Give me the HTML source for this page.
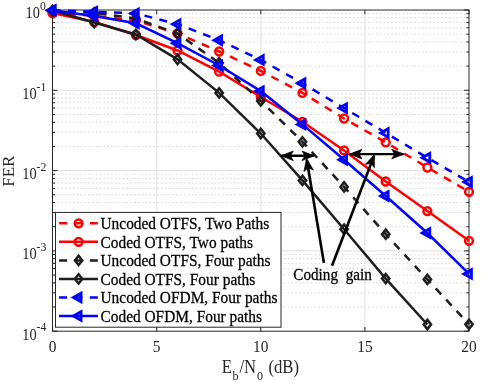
<!DOCTYPE html><html><head><meta charset="utf-8"><style>html,body{margin:0;padding:0;background:#fff;}svg{display:block;}text{font-family:"Liberation Serif","Times New Roman",serif;fill:#262626;}text.k{fill:#000;stroke:#000;stroke-width:0.25px;}</style></head><body>
<svg width="485" height="383" viewBox="0 0 485 383">
<rect width="485" height="383" fill="#fff"/>
<g stroke="#d2d2d2" stroke-width="1" stroke-dasharray="1.4 2.437" stroke-dashoffset="2.639"><line x1="52.5" y1="66.13" x2="469.0" y2="66.13"/><line x1="52.5" y1="51.99" x2="469.0" y2="51.99"/><line x1="52.5" y1="41.95" x2="469.0" y2="41.95"/><line x1="52.5" y1="34.17" x2="469.0" y2="34.17"/><line x1="52.5" y1="27.81" x2="469.0" y2="27.81"/><line x1="52.5" y1="22.44" x2="469.0" y2="22.44"/><line x1="52.5" y1="17.78" x2="469.0" y2="17.78"/><line x1="52.5" y1="13.67" x2="469.0" y2="13.67"/><line x1="52.5" y1="146.43" x2="469.0" y2="146.43"/><line x1="52.5" y1="132.29" x2="469.0" y2="132.29"/><line x1="52.5" y1="122.25" x2="469.0" y2="122.25"/><line x1="52.5" y1="114.47" x2="469.0" y2="114.47"/><line x1="52.5" y1="108.11" x2="469.0" y2="108.11"/><line x1="52.5" y1="102.74" x2="469.0" y2="102.74"/><line x1="52.5" y1="98.08" x2="469.0" y2="98.08"/><line x1="52.5" y1="93.97" x2="469.0" y2="93.97"/><line x1="52.5" y1="226.73" x2="469.0" y2="226.73"/><line x1="52.5" y1="212.59" x2="469.0" y2="212.59"/><line x1="52.5" y1="202.55" x2="469.0" y2="202.55"/><line x1="52.5" y1="194.77" x2="469.0" y2="194.77"/><line x1="52.5" y1="188.41" x2="469.0" y2="188.41"/><line x1="52.5" y1="183.04" x2="469.0" y2="183.04"/><line x1="52.5" y1="178.38" x2="469.0" y2="178.38"/><line x1="52.5" y1="174.27" x2="469.0" y2="174.27"/><line x1="52.5" y1="307.03" x2="469.0" y2="307.03"/><line x1="52.5" y1="292.89" x2="469.0" y2="292.89"/><line x1="52.5" y1="282.85" x2="469.0" y2="282.85"/><line x1="52.5" y1="275.07" x2="469.0" y2="275.07"/><line x1="52.5" y1="268.71" x2="469.0" y2="268.71"/><line x1="52.5" y1="263.34" x2="469.0" y2="263.34"/><line x1="52.5" y1="258.68" x2="469.0" y2="258.68"/><line x1="52.5" y1="254.57" x2="469.0" y2="254.57"/></g>
<g stroke="#e0e0e0" stroke-width="1"><line x1="156.70" y1="10.0" x2="156.70" y2="331.2"/><line x1="260.80" y1="10.0" x2="260.80" y2="331.2"/><line x1="364.90" y1="10.0" x2="364.90" y2="331.2"/><line x1="52.5" y1="90.30" x2="469.0" y2="90.30"/><line x1="52.5" y1="170.60" x2="469.0" y2="170.60"/><line x1="52.5" y1="250.90" x2="469.0" y2="250.90"/></g>
<rect x="52.5" y="10.0" width="416.5" height="321.2" fill="none" stroke="#262626" stroke-width="1"/>
<g stroke="#262626" stroke-width="1"><line x1="52.60" y1="331.2" x2="52.60" y2="327.0"/><line x1="52.60" y1="10.0" x2="52.60" y2="14.2"/><line x1="156.70" y1="331.2" x2="156.70" y2="327.0"/><line x1="156.70" y1="10.0" x2="156.70" y2="14.2"/><line x1="260.80" y1="331.2" x2="260.80" y2="327.0"/><line x1="260.80" y1="10.0" x2="260.80" y2="14.2"/><line x1="364.90" y1="331.2" x2="364.90" y2="327.0"/><line x1="364.90" y1="10.0" x2="364.90" y2="14.2"/><line x1="469.00" y1="331.2" x2="469.00" y2="327.0"/><line x1="469.00" y1="10.0" x2="469.00" y2="14.2"/><line x1="52.5" y1="10.00" x2="57.5" y2="10.00"/><line x1="469.0" y1="10.00" x2="464.0" y2="10.00"/><line x1="52.5" y1="90.30" x2="57.5" y2="90.30"/><line x1="469.0" y1="90.30" x2="464.0" y2="90.30"/><line x1="52.5" y1="170.60" x2="57.5" y2="170.60"/><line x1="469.0" y1="170.60" x2="464.0" y2="170.60"/><line x1="52.5" y1="250.90" x2="57.5" y2="250.90"/><line x1="469.0" y1="250.90" x2="464.0" y2="250.90"/><line x1="52.5" y1="331.20" x2="57.5" y2="331.20"/><line x1="469.0" y1="331.20" x2="464.0" y2="331.20"/><line x1="52.5" y1="66.13" x2="55.1" y2="66.13"/><line x1="469.0" y1="66.13" x2="466.4" y2="66.13"/><line x1="52.5" y1="51.99" x2="55.1" y2="51.99"/><line x1="469.0" y1="51.99" x2="466.4" y2="51.99"/><line x1="52.5" y1="41.95" x2="55.1" y2="41.95"/><line x1="469.0" y1="41.95" x2="466.4" y2="41.95"/><line x1="52.5" y1="34.17" x2="55.1" y2="34.17"/><line x1="469.0" y1="34.17" x2="466.4" y2="34.17"/><line x1="52.5" y1="27.81" x2="55.1" y2="27.81"/><line x1="469.0" y1="27.81" x2="466.4" y2="27.81"/><line x1="52.5" y1="22.44" x2="55.1" y2="22.44"/><line x1="469.0" y1="22.44" x2="466.4" y2="22.44"/><line x1="52.5" y1="17.78" x2="55.1" y2="17.78"/><line x1="469.0" y1="17.78" x2="466.4" y2="17.78"/><line x1="52.5" y1="13.67" x2="55.1" y2="13.67"/><line x1="469.0" y1="13.67" x2="466.4" y2="13.67"/><line x1="52.5" y1="146.43" x2="55.1" y2="146.43"/><line x1="469.0" y1="146.43" x2="466.4" y2="146.43"/><line x1="52.5" y1="132.29" x2="55.1" y2="132.29"/><line x1="469.0" y1="132.29" x2="466.4" y2="132.29"/><line x1="52.5" y1="122.25" x2="55.1" y2="122.25"/><line x1="469.0" y1="122.25" x2="466.4" y2="122.25"/><line x1="52.5" y1="114.47" x2="55.1" y2="114.47"/><line x1="469.0" y1="114.47" x2="466.4" y2="114.47"/><line x1="52.5" y1="108.11" x2="55.1" y2="108.11"/><line x1="469.0" y1="108.11" x2="466.4" y2="108.11"/><line x1="52.5" y1="102.74" x2="55.1" y2="102.74"/><line x1="469.0" y1="102.74" x2="466.4" y2="102.74"/><line x1="52.5" y1="98.08" x2="55.1" y2="98.08"/><line x1="469.0" y1="98.08" x2="466.4" y2="98.08"/><line x1="52.5" y1="93.97" x2="55.1" y2="93.97"/><line x1="469.0" y1="93.97" x2="466.4" y2="93.97"/><line x1="52.5" y1="226.73" x2="55.1" y2="226.73"/><line x1="469.0" y1="226.73" x2="466.4" y2="226.73"/><line x1="52.5" y1="212.59" x2="55.1" y2="212.59"/><line x1="469.0" y1="212.59" x2="466.4" y2="212.59"/><line x1="52.5" y1="202.55" x2="55.1" y2="202.55"/><line x1="469.0" y1="202.55" x2="466.4" y2="202.55"/><line x1="52.5" y1="194.77" x2="55.1" y2="194.77"/><line x1="469.0" y1="194.77" x2="466.4" y2="194.77"/><line x1="52.5" y1="188.41" x2="55.1" y2="188.41"/><line x1="469.0" y1="188.41" x2="466.4" y2="188.41"/><line x1="52.5" y1="183.04" x2="55.1" y2="183.04"/><line x1="469.0" y1="183.04" x2="466.4" y2="183.04"/><line x1="52.5" y1="178.38" x2="55.1" y2="178.38"/><line x1="469.0" y1="178.38" x2="466.4" y2="178.38"/><line x1="52.5" y1="174.27" x2="55.1" y2="174.27"/><line x1="469.0" y1="174.27" x2="466.4" y2="174.27"/><line x1="52.5" y1="307.03" x2="55.1" y2="307.03"/><line x1="469.0" y1="307.03" x2="466.4" y2="307.03"/><line x1="52.5" y1="292.89" x2="55.1" y2="292.89"/><line x1="469.0" y1="292.89" x2="466.4" y2="292.89"/><line x1="52.5" y1="282.85" x2="55.1" y2="282.85"/><line x1="469.0" y1="282.85" x2="466.4" y2="282.85"/><line x1="52.5" y1="275.07" x2="55.1" y2="275.07"/><line x1="469.0" y1="275.07" x2="466.4" y2="275.07"/><line x1="52.5" y1="268.71" x2="55.1" y2="268.71"/><line x1="469.0" y1="268.71" x2="466.4" y2="268.71"/><line x1="52.5" y1="263.34" x2="55.1" y2="263.34"/><line x1="469.0" y1="263.34" x2="466.4" y2="263.34"/><line x1="52.5" y1="258.68" x2="55.1" y2="258.68"/><line x1="469.0" y1="258.68" x2="466.4" y2="258.68"/><line x1="52.5" y1="254.57" x2="55.1" y2="254.57"/><line x1="469.0" y1="254.57" x2="466.4" y2="254.57"/></g>
<defs><clipPath id="ax"><rect x="52.5" y="2.0" width="424.5" height="329.2"/></clipPath><clipPath id="ax2"><rect x="49.5" y="7.0" width="422.5" height="325.4"/></clipPath></defs>
<polyline points="52.60,13.00 94.24,15.80 135.88,20.50 177.52,33.50 219.16,51.50 260.80,70.90 302.44,92.90 344.08,118.50 385.72,142.30 427.36,167.50 469.00,191.80" fill="none" stroke="#ff0000" stroke-width="2.5" stroke-dasharray="8 7.37" clip-path="url(#ax2)"/>
<g><circle cx="52.60" cy="13.00" r="3.9" fill="none" stroke="#ff0000" stroke-width="2.5"/><circle cx="94.24" cy="15.80" r="3.9" fill="none" stroke="#ff0000" stroke-width="2.5"/><circle cx="135.88" cy="20.50" r="3.9" fill="none" stroke="#ff0000" stroke-width="2.5"/><circle cx="177.52" cy="33.50" r="3.9" fill="none" stroke="#ff0000" stroke-width="2.5"/><circle cx="219.16" cy="51.50" r="3.9" fill="none" stroke="#ff0000" stroke-width="2.5"/><circle cx="260.80" cy="70.90" r="3.9" fill="none" stroke="#ff0000" stroke-width="2.5"/><circle cx="302.44" cy="92.90" r="3.9" fill="none" stroke="#ff0000" stroke-width="2.5"/><circle cx="344.08" cy="118.50" r="3.9" fill="none" stroke="#ff0000" stroke-width="2.5"/><circle cx="385.72" cy="142.30" r="3.9" fill="none" stroke="#ff0000" stroke-width="2.5"/><circle cx="427.36" cy="167.50" r="3.9" fill="none" stroke="#ff0000" stroke-width="2.5"/><circle cx="469.00" cy="191.80" r="3.9" fill="none" stroke="#ff0000" stroke-width="2.5"/></g>
<polyline points="52.60,13.00 94.24,22.00 135.88,35.00 177.52,50.50 219.16,71.70 260.80,97.00 302.44,121.80 344.08,150.40 385.72,181.50 427.36,211.10 469.00,240.80" fill="none" stroke="#ff0000" stroke-width="2.5" clip-path="url(#ax2)"/>
<g><circle cx="52.60" cy="13.00" r="3.9" fill="none" stroke="#ff0000" stroke-width="2.5"/><circle cx="94.24" cy="22.00" r="3.9" fill="none" stroke="#ff0000" stroke-width="2.5"/><circle cx="135.88" cy="35.00" r="3.9" fill="none" stroke="#ff0000" stroke-width="2.5"/><circle cx="177.52" cy="50.50" r="3.9" fill="none" stroke="#ff0000" stroke-width="2.5"/><circle cx="219.16" cy="71.70" r="3.9" fill="none" stroke="#ff0000" stroke-width="2.5"/><circle cx="260.80" cy="97.00" r="3.9" fill="none" stroke="#ff0000" stroke-width="2.5"/><circle cx="302.44" cy="121.80" r="3.9" fill="none" stroke="#ff0000" stroke-width="2.5"/><circle cx="344.08" cy="150.40" r="3.9" fill="none" stroke="#ff0000" stroke-width="2.5"/><circle cx="385.72" cy="181.50" r="3.9" fill="none" stroke="#ff0000" stroke-width="2.5"/><circle cx="427.36" cy="211.10" r="3.9" fill="none" stroke="#ff0000" stroke-width="2.5"/><circle cx="469.00" cy="240.80" r="3.9" fill="none" stroke="#ff0000" stroke-width="2.5"/></g>
<polyline points="52.60,10.80 94.24,12.80 135.88,18.50 177.52,33.50 219.16,63.00 260.80,100.90 302.44,141.80 344.08,186.90 385.72,234.20 427.36,279.40 469.00,324.30" fill="none" stroke="#1e1e1e" stroke-width="2.5" stroke-dasharray="8 7.37" clip-path="url(#ax2)"/>
<g><path d="M52.60 6.16L56.30 10.80L52.60 15.44L48.90 10.80Z" fill="none" stroke="#1e1e1e" stroke-width="2.5"/><path d="M94.24 8.16L97.94 12.80L94.24 17.44L90.54 12.80Z" fill="none" stroke="#1e1e1e" stroke-width="2.5"/><path d="M135.88 13.86L139.58 18.50L135.88 23.14L132.18 18.50Z" fill="none" stroke="#1e1e1e" stroke-width="2.5"/><path d="M177.52 28.86L181.22 33.50L177.52 38.14L173.82 33.50Z" fill="none" stroke="#1e1e1e" stroke-width="2.5"/><path d="M219.16 58.36L222.86 63.00L219.16 67.64L215.46 63.00Z" fill="none" stroke="#1e1e1e" stroke-width="2.5"/><path d="M260.80 96.26L264.50 100.90L260.80 105.54L257.10 100.90Z" fill="none" stroke="#1e1e1e" stroke-width="2.5"/><path d="M302.44 137.16L306.14 141.80L302.44 146.44L298.74 141.80Z" fill="none" stroke="#1e1e1e" stroke-width="2.5"/><path d="M344.08 182.26L347.78 186.90L344.08 191.54L340.38 186.90Z" fill="none" stroke="#1e1e1e" stroke-width="2.5"/><path d="M385.72 229.56L389.42 234.20L385.72 238.84L382.02 234.20Z" fill="none" stroke="#1e1e1e" stroke-width="2.5"/><path d="M427.36 274.76L431.06 279.40L427.36 284.04L423.66 279.40Z" fill="none" stroke="#1e1e1e" stroke-width="2.5"/><path d="M469.00 319.66L472.70 324.30L469.00 328.94L465.30 324.30Z" fill="none" stroke="#1e1e1e" stroke-width="2.5"/></g>
<polyline points="52.60,10.50 94.24,22.50 135.88,34.50 177.52,59.40 219.16,92.90 260.80,133.50 302.44,180.40 344.08,229.20 385.72,278.60 427.36,324.50" fill="none" stroke="#1e1e1e" stroke-width="2.5" clip-path="url(#ax2)"/>
<g><path d="M52.60 5.86L56.30 10.50L52.60 15.14L48.90 10.50Z" fill="none" stroke="#1e1e1e" stroke-width="2.5"/><path d="M94.24 17.86L97.94 22.50L94.24 27.14L90.54 22.50Z" fill="none" stroke="#1e1e1e" stroke-width="2.5"/><path d="M135.88 29.86L139.58 34.50L135.88 39.14L132.18 34.50Z" fill="none" stroke="#1e1e1e" stroke-width="2.5"/><path d="M177.52 54.76L181.22 59.40L177.52 64.04L173.82 59.40Z" fill="none" stroke="#1e1e1e" stroke-width="2.5"/><path d="M219.16 88.26L222.86 92.90L219.16 97.54L215.46 92.90Z" fill="none" stroke="#1e1e1e" stroke-width="2.5"/><path d="M260.80 128.86L264.50 133.50L260.80 138.14L257.10 133.50Z" fill="none" stroke="#1e1e1e" stroke-width="2.5"/><path d="M302.44 175.76L306.14 180.40L302.44 185.04L298.74 180.40Z" fill="none" stroke="#1e1e1e" stroke-width="2.5"/><path d="M344.08 224.56L347.78 229.20L344.08 233.84L340.38 229.20Z" fill="none" stroke="#1e1e1e" stroke-width="2.5"/><path d="M385.72 273.96L389.42 278.60L385.72 283.24L382.02 278.60Z" fill="none" stroke="#1e1e1e" stroke-width="2.5"/><path d="M427.36 319.86L431.06 324.50L427.36 329.14L423.66 324.50Z" fill="none" stroke="#1e1e1e" stroke-width="2.5"/></g>
<polyline points="52.60,10.10 94.24,11.80 135.88,13.40 177.52,24.10 219.16,40.20 260.80,59.90 302.44,83.30 344.08,108.10 385.72,132.90 427.36,157.80 469.00,182.00" fill="none" stroke="#0000ff" stroke-width="2.5" stroke-dasharray="8 7.37" clip-path="url(#ax2)"/>
<g><path d="M47.45 10.10L55.05 5.81L55.05 14.39Z" fill="none" stroke="#0000ff" stroke-width="2.8" stroke-miterlimit="10"/><path d="M89.09 11.80L96.69 7.51L96.69 16.09Z" fill="none" stroke="#0000ff" stroke-width="2.8" stroke-miterlimit="10"/><path d="M130.73 13.40L138.33 9.11L138.33 17.69Z" fill="none" stroke="#0000ff" stroke-width="2.8" stroke-miterlimit="10"/><path d="M172.37 24.10L179.97 19.81L179.97 28.39Z" fill="none" stroke="#0000ff" stroke-width="2.8" stroke-miterlimit="10"/><path d="M214.01 40.20L221.61 35.91L221.61 44.49Z" fill="none" stroke="#0000ff" stroke-width="2.8" stroke-miterlimit="10"/><path d="M255.65 59.90L263.25 55.61L263.25 64.19Z" fill="none" stroke="#0000ff" stroke-width="2.8" stroke-miterlimit="10"/><path d="M297.29 83.30L304.89 79.01L304.89 87.59Z" fill="none" stroke="#0000ff" stroke-width="2.8" stroke-miterlimit="10"/><path d="M338.93 108.10L346.53 103.81L346.53 112.39Z" fill="none" stroke="#0000ff" stroke-width="2.8" stroke-miterlimit="10"/><path d="M380.57 132.90L388.17 128.61L388.17 137.19Z" fill="none" stroke="#0000ff" stroke-width="2.8" stroke-miterlimit="10"/><path d="M422.21 157.80L429.81 153.51L429.81 162.09Z" fill="none" stroke="#0000ff" stroke-width="2.8" stroke-miterlimit="10"/><path d="M463.85 182.00L471.45 177.71L471.45 186.29Z" fill="none" stroke="#0000ff" stroke-width="2.8" stroke-miterlimit="10"/></g>
<polyline points="52.60,10.50 94.24,16.00 135.88,23.30 177.52,43.20 219.16,65.50 260.80,91.10 302.44,124.40 344.08,159.80 385.72,196.00 427.36,233.00 469.00,273.90" fill="none" stroke="#0000ff" stroke-width="2.5" clip-path="url(#ax2)"/>
<g><path d="M47.45 10.50L55.05 6.21L55.05 14.79Z" fill="none" stroke="#0000ff" stroke-width="2.8" stroke-miterlimit="10"/><path d="M89.09 16.00L96.69 11.71L96.69 20.29Z" fill="none" stroke="#0000ff" stroke-width="2.8" stroke-miterlimit="10"/><path d="M130.73 23.30L138.33 19.01L138.33 27.59Z" fill="none" stroke="#0000ff" stroke-width="2.8" stroke-miterlimit="10"/><path d="M172.37 43.20L179.97 38.91L179.97 47.49Z" fill="none" stroke="#0000ff" stroke-width="2.8" stroke-miterlimit="10"/><path d="M214.01 65.50L221.61 61.21L221.61 69.79Z" fill="none" stroke="#0000ff" stroke-width="2.8" stroke-miterlimit="10"/><path d="M255.65 91.10L263.25 86.81L263.25 95.39Z" fill="none" stroke="#0000ff" stroke-width="2.8" stroke-miterlimit="10"/><path d="M297.29 124.40L304.89 120.11L304.89 128.69Z" fill="none" stroke="#0000ff" stroke-width="2.8" stroke-miterlimit="10"/><path d="M338.93 159.80L346.53 155.51L346.53 164.09Z" fill="none" stroke="#0000ff" stroke-width="2.8" stroke-miterlimit="10"/><path d="M380.57 196.00L388.17 191.71L388.17 200.29Z" fill="none" stroke="#0000ff" stroke-width="2.8" stroke-miterlimit="10"/><path d="M422.21 233.00L429.81 228.71L429.81 237.29Z" fill="none" stroke="#0000ff" stroke-width="2.8" stroke-miterlimit="10"/><path d="M463.85 273.90L471.45 269.61L471.45 278.19Z" fill="none" stroke="#0000ff" stroke-width="2.8" stroke-miterlimit="10"/></g>
<text transform="translate(52.60,351.80) scale(1,1.11)" font-size="15.4" text-anchor="middle">0</text>
<text transform="translate(156.70,351.80) scale(1,1.11)" font-size="15.4" text-anchor="middle">5</text>
<text transform="translate(260.80,351.80) scale(1,1.11)" font-size="15.4" text-anchor="middle">10</text>
<text transform="translate(364.90,351.80) scale(1,1.11)" font-size="15.4" text-anchor="middle">15</text>
<text transform="translate(469.00,351.80) scale(1,1.11)" font-size="15.4" text-anchor="middle">20</text>
<text transform="translate(39.90,18.30) scale(0.93,1.11)" font-size="15.4" text-anchor="end">10</text>
<text transform="translate(39.90,10.20) scale(1,1.11)" font-size="11.8">0</text>
<text transform="translate(36.60,98.60) scale(0.93,1.11)" font-size="15.4" text-anchor="end">10</text>
<text transform="translate(36.60,90.50) scale(1,1.11)" font-size="11.8">-1</text>
<text transform="translate(36.60,178.90) scale(0.93,1.11)" font-size="15.4" text-anchor="end">10</text>
<text transform="translate(36.60,170.80) scale(1,1.11)" font-size="11.8">-2</text>
<text transform="translate(36.60,259.20) scale(0.93,1.11)" font-size="15.4" text-anchor="end">10</text>
<text transform="translate(36.60,251.10) scale(1,1.11)" font-size="11.8">-3</text>
<text transform="translate(36.60,339.50) scale(0.93,1.11)" font-size="15.4" text-anchor="end">10</text>
<text transform="translate(36.60,331.40) scale(1,1.11)" font-size="11.8">-4</text>
<text transform="translate(14.0,171.2) rotate(-90) scale(1.02,1)" font-size="16.7" text-anchor="middle">FER</text>
<text transform="translate(0,372.6) scale(1,1.09)" font-size="16.7"><tspan x="221.8" y="0">E</tspan><tspan x="232.4" y="6.42" font-size="12.12">b</tspan><tspan x="239.4" y="0">/N</tspan><tspan x="257.0" y="6.42" font-size="12.12">0</tspan><tspan x="268.4" y="0">(dB)</tspan></text>
<rect x="55.5" y="212.4" width="225.5" height="114.79999999999998" fill="#fff" stroke="#262626" stroke-width="1"/>
<line x1="59.1" y1="223.30" x2="97.8" y2="223.30" stroke="#ff0000" stroke-width="2.5" stroke-dasharray="8 7.35"/>
<circle cx="78.60" cy="223.30" r="3.9" fill="none" stroke="#ff0000" stroke-width="2.5"/>
<text transform="translate(100.50,229.00) scale(1,1.11)" font-size="15.4" class="k">Uncoded OTFS, Two Paths</text>
<line x1="59" y1="241.84" x2="98" y2="241.84" stroke="#ff0000" stroke-width="2.5"/>
<circle cx="78.60" cy="241.84" r="3.9" fill="none" stroke="#ff0000" stroke-width="2.5"/>
<text transform="translate(100.50,247.54) scale(1,1.11)" font-size="15.4" class="k">Coded OTFS, Two paths</text>
<line x1="59.1" y1="260.38" x2="97.8" y2="260.38" stroke="#1e1e1e" stroke-width="2.5" stroke-dasharray="8 7.35"/>
<path d="M78.60 255.74L82.30 260.38L78.60 265.02L74.90 260.38Z" fill="none" stroke="#1e1e1e" stroke-width="2.5"/>
<text transform="translate(100.50,266.08) scale(1,1.11)" font-size="15.4" class="k">Uncoded OTFS, Four paths</text>
<line x1="59" y1="278.92" x2="98" y2="278.92" stroke="#1e1e1e" stroke-width="2.5"/>
<path d="M78.60 274.28L82.30 278.92L78.60 283.56L74.90 278.92Z" fill="none" stroke="#1e1e1e" stroke-width="2.5"/>
<text transform="translate(100.50,284.62) scale(1,1.11)" font-size="15.4" class="k">Coded OTFS, Four paths</text>
<line x1="59.1" y1="297.46" x2="97.8" y2="297.46" stroke="#0000ff" stroke-width="2.5" stroke-dasharray="8 7.35"/>
<path d="M73.45 297.46L81.05 293.17L81.05 301.75Z" fill="none" stroke="#0000ff" stroke-width="2.8" stroke-miterlimit="10"/>
<text transform="translate(100.50,303.16) scale(1,1.11)" font-size="15.4" class="k">Uncoded OFDM, Four paths</text>
<line x1="59" y1="316.00" x2="98" y2="316.00" stroke="#0000ff" stroke-width="2.5"/>
<path d="M73.45 316.00L81.05 311.71L81.05 320.29Z" fill="none" stroke="#0000ff" stroke-width="2.8" stroke-miterlimit="10"/>
<text transform="translate(100.50,321.70) scale(1,1.11)" font-size="15.4" class="k">Coded OFDM, Four paths</text>
<line x1="281.5" y1="155.8" x2="313.8" y2="155.8" stroke="#000" stroke-width="2.4"/><path d="M281.00 155.80L293.30 151.00L290.35 155.80L293.30 160.60Z" fill="#000" stroke="#000" stroke-width="0.7" stroke-linejoin="round"/><path d="M314.30 155.80L302.00 160.60L304.95 155.80L302.00 151.00Z" fill="#000" stroke="#000" stroke-width="0.7" stroke-linejoin="round"/><line x1="350" y1="154.1" x2="403.5" y2="154.1" stroke="#000" stroke-width="2.4"/><path d="M349.60 154.10L361.90 149.30L358.95 154.10L361.90 158.90Z" fill="#000" stroke="#000" stroke-width="0.7" stroke-linejoin="round"/><path d="M404.00 154.10L391.70 158.90L394.65 154.10L391.70 149.30Z" fill="#000" stroke="#000" stroke-width="0.7" stroke-linejoin="round"/><line x1="323.9" y1="262.9" x2="306.8" y2="160" stroke="#000" stroke-width="2.6"/><path d="M306.60 158.60L313.38 169.93L308.16 167.82L303.92 171.53Z" fill="#000" stroke="#000" stroke-width="0.7" stroke-linejoin="round"/><line x1="332" y1="265.8" x2="374" y2="156" stroke="#000" stroke-width="2.6"/><path d="M374.30 154.60L374.41 167.80L370.98 163.34L365.44 164.39Z" fill="#000" stroke="#000" stroke-width="0.7" stroke-linejoin="round"/>
<text transform="translate(293.30,279.60) scale(1,1.11)" font-size="15.2" class="k" xml:space="preserve" style="white-space:pre">Coding  gain</text>
</svg></body></html>
